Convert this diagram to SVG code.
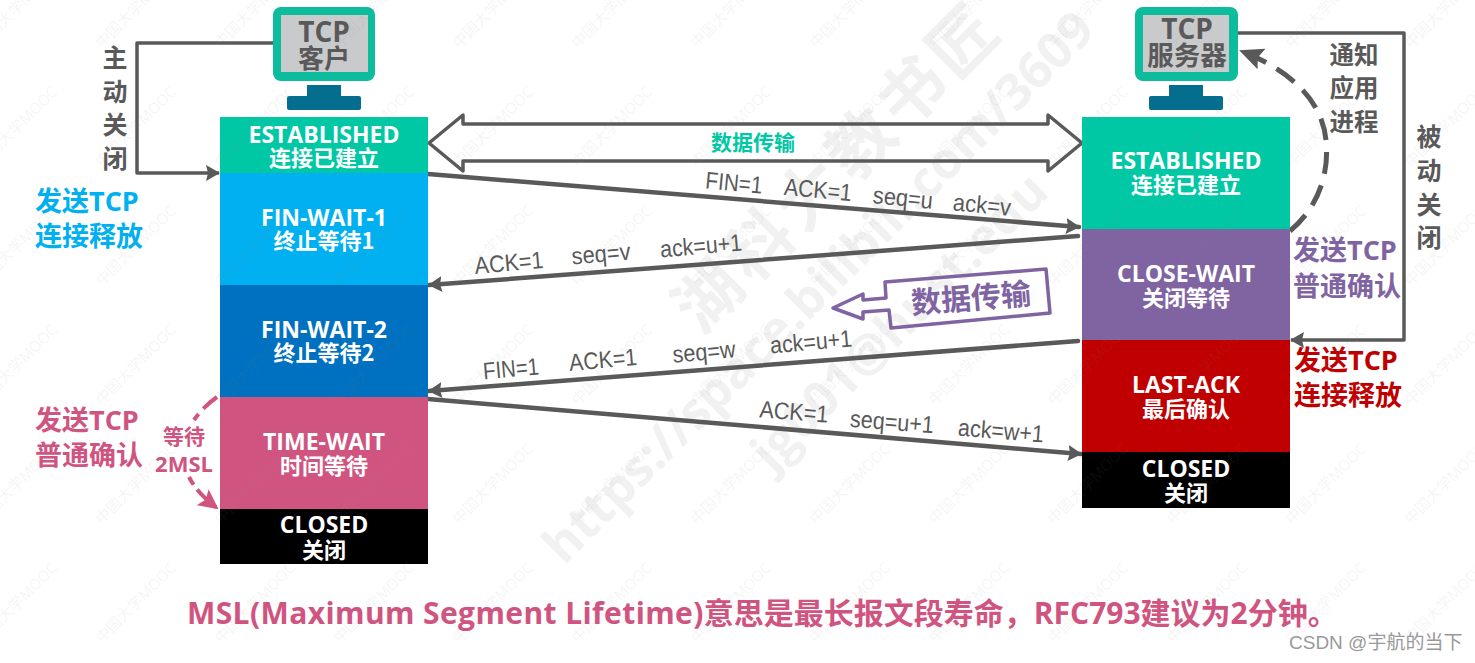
<svg xmlns="http://www.w3.org/2000/svg" width="1475" height="663" viewBox="0 0 1475 663">
<style>
text{font-family:"Open Sans","Noto Sans CJK SC",sans-serif}
.n1{font-size:23px;font-weight:700;fill:#fff;text-anchor:middle}
.n2{font-size:22px;font-weight:700;fill:#fff;text-anchor:middle;font-family:"Noto Sans CJK SC",sans-serif}
.mon{font-size:28px;font-weight:700;fill:#595959;text-anchor:middle}
.side{font-size:27px;font-weight:700}
.v{font-size:25px;font-weight:700;fill:#595959;text-anchor:middle;font-family:"Noto Sans CJK SC",sans-serif}
.lb{font-size:24px;fill:#595959;text-anchor:middle;font-family:"Liberation Sans",Arial,sans-serif}
.wm{font-weight:700;fill:#f1f1f1}
.ln{fill:none;stroke:#595959;stroke-width:4.5;stroke-linecap:round}
.ln3{fill:none;stroke:#595959;stroke-width:3.5;stroke-linejoin:round}
.teal{fill:#0cbc9c}.scr{fill:#c9cacc}.std{fill:#056e8e}
</style>
<defs>
<marker id="ah" markerUnits="userSpaceOnUse" markerWidth="14" markerHeight="16" refX="13" refY="8" orient="auto"><path d="M0 0L14 8L0 16L2 8z" fill="#595959"/></marker>
<marker id="ahl" markerUnits="userSpaceOnUse" markerWidth="24" markerHeight="24" refX="22" refY="12" orient="auto"><path d="M0 1L24 12L0 23L4 12z" fill="#595959"/></marker>
<marker id="ahp" markerUnits="userSpaceOnUse" markerWidth="20" markerHeight="20" refX="18" refY="10" orient="auto"><path d="M0 0L20 10L0 20L4 10z" fill="#d05480"/></marker>
<pattern id="mooc" patternUnits="userSpaceOnUse" width="119" height="119">
<g font-size="15" fill="#777" fill-opacity=".08">
<text transform="translate(102 49) rotate(-45)">中国大学MOOC</text>
<text transform="translate(-17 49) rotate(-45)">中国大学MOOC</text>
<text transform="translate(102 168) rotate(-45)">中国大学MOOC</text>
<text transform="translate(-17 168) rotate(-45)">中国大学MOOC</text>
</g>
</pattern>
</defs>
<rect width="1475" height="663" fill="#fff"/>
<g id="watermark">
<text class="wm" font-size="50" transform="translate(564 566) rotate(-45)">https://space.bilibili.com/3609</text>
<text class="wm" font-size="66" letter-spacing="6" text-anchor="middle" transform="translate(838 167) rotate(-45) translate(0 23)">湖科大教书匠</text>
<text class="wm" font-size="50" transform="translate(772 473) rotate(-45)">jg001@hust.edu</text>
</g>
<g id="client">
<rect class="teal" x="273" y="7" width="102" height="74" rx="8"/>
<rect class="scr" x="281" y="15" width="87" height="57"/>
<rect class="std" x="307" y="85" width="34" height="12"/>
<rect class="std" x="287" y="96" width="74" height="14" rx="2"/>
<text class="mon" x="324" y="42">TCP</text>
<text class="mon" x="324" y="68" style="font-size:26px">客户</text>
</g>
<g id="server">
<rect class="teal" x="1135" y="7" width="103" height="74" rx="8"/>
<rect class="scr" x="1143" y="15" width="86" height="57"/>
<rect class="std" x="1169" y="85" width="34" height="12"/>
<rect class="std" x="1149" y="96" width="74" height="14" rx="2"/>
<text class="mon" x="1187" y="39">TCP</text>
<text class="mon" x="1187" y="65" style="font-size:26.5px">服务器</text>
</g>
<g id="connectors">
<path class="ln3" marker-end="url(#ah)" d="M273 43H137V173H219"/>
<path class="ln3" marker-end="url(#ah)" d="M1238 33H1404V340H1291"/>
<path d="M1290 231C1322 204 1329 168 1326 140C1322 100 1290 70 1241 51" fill="none" stroke="#595959" stroke-width="5" stroke-dasharray="22 12" marker-end="url(#ahl)"/>
<path class="ln3" d="M429 143L463 115V124H1048V115L1082 143L1048 171V161H463V171Z"/>
<path class="ln" marker-end="url(#ah)" d="M428 174L1079 227"/>
<path class="ln" marker-end="url(#ah)" d="M1078 236L429 285"/>
<path class="ln" marker-end="url(#ah)" d="M1078 341L429 391"/>
<path class="ln" marker-end="url(#ah)" d="M428 399L1081 454"/>
<path d="M217 397Q203 407 194 420" fill="none" stroke="#d05480" stroke-width="4" stroke-dasharray="18 7"/>
<path d="M189 477Q197 493 217 508" fill="none" stroke="#d05480" stroke-width="4" stroke-dasharray="9 6 26 2" marker-end="url(#ahp)"/>
</g>
<g id="labels">
<text class="lb" textLength="57" lengthAdjust="spacingAndGlyphs" transform="translate(734 183) rotate(5.5)" y="8">FIN=1</text>
<text class="lb" textLength="68" lengthAdjust="spacingAndGlyphs" transform="translate(818 190) rotate(5.5)" y="8">ACK=1</text>
<text class="lb" textLength="60" lengthAdjust="spacingAndGlyphs" transform="translate(903 198) rotate(5.5)" y="8">seq=u</text>
<text class="lb" textLength="58" lengthAdjust="spacingAndGlyphs" transform="translate(982 205) rotate(5.5)" y="8">ack=v</text>
<text class="lb" textLength="69" lengthAdjust="spacingAndGlyphs" transform="translate(509 263) rotate(-5)" y="8">ACK=1</text>
<text class="lb" textLength="59" lengthAdjust="spacingAndGlyphs" transform="translate(601 254) rotate(-5)" y="8">seq=v</text>
<text class="lb" textLength="82" lengthAdjust="spacingAndGlyphs" transform="translate(701 246) rotate(-5)" y="8">ack=u+1</text>
<text class="lb" textLength="56" lengthAdjust="spacingAndGlyphs" transform="translate(511 369) rotate(-5)" y="8">FIN=1</text>
<text class="lb" textLength="68" lengthAdjust="spacingAndGlyphs" transform="translate(603 360) rotate(-5)" y="8">ACK=1</text>
<text class="lb" textLength="63" lengthAdjust="spacingAndGlyphs" transform="translate(704 352) rotate(-5)" y="8">seq=w</text>
<text class="lb" textLength="82" lengthAdjust="spacingAndGlyphs" transform="translate(811 342) rotate(-5)" y="8">ack=u+1</text>
<text class="lb" textLength="69" lengthAdjust="spacingAndGlyphs" transform="translate(794 412) rotate(4.5)" y="8">ACK=1</text>
<text class="lb" textLength="84" lengthAdjust="spacingAndGlyphs" transform="translate(892 422) rotate(4.5)" y="8">seq=u+1</text>
<text class="lb" textLength="86" lengthAdjust="spacingAndGlyphs" transform="translate(1001 431) rotate(4.5)" y="8">ack=w+1</text>
<text x="753" y="150" text-anchor="middle" font-size="21" font-weight="700" fill="#00c8a5" stroke="#fff" stroke-width="4" paint-order="stroke" style="font-family:'Noto Sans CJK SC',sans-serif">数据传输</text>
</g>
<g id="node-established-left">
<rect x="220" y="117" width="208" height="56" fill="#00c8a5"/>
<text class="n1" x="324" y="143">ESTABLISHED</text><text class="n2" x="324" y="166">连接已建立</text>
</g>
<g id="node-fin-wait-1">
<rect x="220" y="173" width="208" height="112" fill="#00b0f0"/>
<text class="n1" x="324" y="226">FIN-WAIT-1</text><text class="n2" x="324" y="249">终止等待1</text>
</g>
<g id="node-fin-wait-2">
<rect x="220" y="285" width="208" height="112" fill="#0070c0"/>
<text class="n1" x="324" y="338">FIN-WAIT-2</text><text class="n2" x="324" y="361">终止等待2</text>
</g>
<g id="node-time-wait">
<rect x="220" y="397" width="208" height="112" fill="#d05480"/>
<text class="n1" x="324" y="450">TIME-WAIT</text><text class="n2" x="324" y="474">时间等待</text>
</g>
<g id="node-closed-left">
<rect x="220" y="509" width="208" height="55" fill="#000"/>
<text class="n1" x="324" y="533">CLOSED</text><text class="n2" x="324" y="558">关闭</text>
</g>
<g id="node-established-right">
<rect x="1082" y="117" width="208" height="112" fill="#00c8a5"/>
<text class="n1" x="1186" y="169">ESTABLISHED</text><text class="n2" x="1186" y="193">连接已建立</text>
</g>
<g id="node-close-wait">
<rect x="1082" y="229" width="208" height="111" fill="#8064a2"/>
<text class="n1" x="1186" y="282">CLOSE-WAIT</text><text class="n2" x="1186" y="306">关闭等待</text>
</g>
<g id="node-last-ack">
<rect x="1082" y="340" width="208" height="112" fill="#c00000"/>
<text class="n1" x="1186" y="393">LAST-ACK</text><text class="n2" x="1186" y="417">最后确认</text>
</g>
<g id="node-closed-right">
<rect x="1082" y="452" width="208" height="56" fill="#000"/>
<text class="n1" x="1186" y="477">CLOSED</text><text class="n2" x="1186" y="501">关闭</text>
</g>
<g id="side-labels">
<text class="v" x="115" y="67">主</text><text class="v" x="115" y="101">动</text><text class="v" x="115" y="134">关</text><text class="v" x="115" y="168">闭</text>
<text class="v" x="1429" y="146">被</text><text class="v" x="1429" y="180">动</text><text class="v" x="1429" y="214">关</text><text class="v" x="1429" y="247">闭</text>
<text class="v" x="1354" y="64" style="font-size:24.5px">通知</text><text class="v" x="1354" y="97" style="font-size:24.5px">应用</text><text class="v" x="1354" y="131" style="font-size:24.5px">进程</text>
<text class="side" x="35" y="211" fill="#00b0f0">发送TCP</text><text class="side" x="35" y="246" fill="#00b0f0">连接释放</text>
<text class="side" x="35" y="430" fill="#d05480">发送TCP</text><text class="side" x="35" y="465" fill="#d05480">普通确认</text>
<text class="side" x="1293" y="260" fill="#8064a2">发送TCP</text><text class="side" x="1293" y="296" fill="#8064a2">普通确认</text>
<text class="side" x="1294" y="370" fill="#c00000">发送TCP</text><text class="side" x="1294" y="405" fill="#c00000">连接释放</text>
<text x="184" y="444" text-anchor="middle" font-size="21" font-weight="700" fill="#d05480" stroke="#fff" stroke-width="4" paint-order="stroke">等待</text>
<text x="184" y="472" text-anchor="middle" font-size="22" font-weight="700" fill="#d05480" stroke="#fff" stroke-width="4" paint-order="stroke">2MSL</text>
</g>
<g id="callout">
<path d="M833 308L863 294V300L886 298L885 282L1046 269L1050 313L891 328L889 310L863 312V319Z" fill="none" stroke="#8064a2" stroke-width="3.5" stroke-linejoin="round"/>
<text x="971" y="309" text-anchor="middle" font-size="30" font-weight="700" fill="#8064a2" transform="rotate(-4.5 971 298)">数据传输</text>
</g>
<rect id="mooc-watermark" width="1475" height="663" fill="url(#mooc)"/>
<text id="note" x="187" y="624" font-size="30" font-weight="700" fill="#d05480"><tspan letter-spacing=".4">MSL(Maximum Segment Lifetime)</tspan>意思是最长报文段寿命，RFC793建议为2分钟。</text>
<text id="credit" x="1289" y="649" font-size="19" fill="#999" style="font-family:'Liberation Sans','Noto Sans CJK SC',sans-serif">CSDN @宇航的当下</text>
</svg>
